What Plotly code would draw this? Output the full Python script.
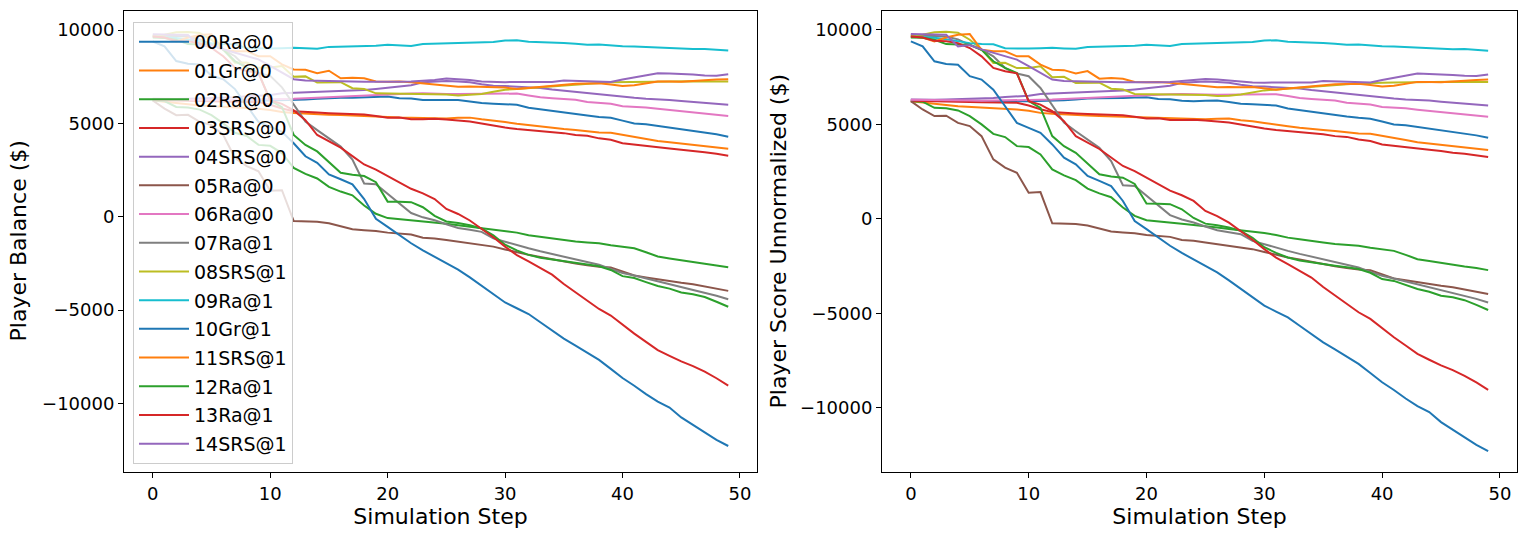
import plotly.graph_objects as go

steps = list(range(50))

names = ["00Ra@0", "01Gr@0", "02Ra@0", "03SRS@0", "04SRS@0", "05Ra@0", "06Ra@0",
         "07Ra@1", "08SRS@1", "09Ra@1", "10Gr@1", "11SRS@1", "12Ra@1", "13Ra@1", "14SRS@1"]

s00 = [6290, 6280, 6280, 6270, 6260, 6250, 6250, 6240, 6230, 6230,
       6230, 6240, 6250, 6280, 6320, 6370, 6380, 6370, 6400, 6420,
       6440, 6350, 6330, 6250, 6230, 6250, 6260, 6180, 6090, 6060,
       6030, 6000, 5840, 5750, 5650, 5560, 5500, 5420, 5350, 5300,
       5150, 5000, 4950, 4860, 4780, 4700, 4610, 4530, 4420, 4290]
s01 = [6230, 6150, 6080, 6030, 5960, 5930, 5900, 5850, 5800, 5790,
       5720, 5610, 5560, 5520, 5480, 5470, 5450, 5430, 5420, 5400,
       5350, 5320, 5300, 5280, 5260, 5270, 5300, 5310, 5220, 5170,
       5080, 4980, 4900, 4820, 4780, 4700, 4650, 4580, 4520, 4500,
       4380, 4290, 4180, 4060, 3990, 3920, 3850, 3800, 3720, 3640]
s02 = [6230, 6200, 5880, 5850, 5740, 5440, 5000, 4500, 4330, 3850,
       3800, 3410, 2620, 2300, 2050, 1600, 1350, 1150, 600, 160,
       -70, -130, -160, -250, -320, -370, -450, -530, -600, -680,
       -750, -850, -990, -1080, -1150, -1250, -1330, -1380, -1420, -1530,
       -1600, -1690, -1900, -2130, -2230, -2340, -2420, -2520, -2600, -2710]
s03 = [6250, 6230, 6220, 6200, 6190, 6180, 6170, 6160, 6160, 6150,
       6000, 5800, 5650, 5600, 5580, 5550, 5530, 5520, 5480, 5400,
       5310, 5320, 5230, 5230, 5250, 5210, 5170, 5100, 5000, 4880,
       4780, 4700, 4640, 4600, 4550, 4480, 4380, 4340, 4200, 4120,
       3940, 3880, 3800, 3730, 3660, 3590, 3500, 3450, 3370, 3270]
s04 = [6320, 6300, 6310, 6320, 6330, 6350, 6370, 6400, 6450, 6490,
       6520, 6610, 6630, 6650, 6700, 6720, 6750, 6770, 6790, 6850,
       6930, 6980, 7050, 7200, 7250, 7270, 7250, 7200, 7100, 7020,
       7000, 6980, 6960, 6900, 6820, 6750, 6700, 6640, 6580, 6500,
       6420, 6370, 6320, 6300, 6260, 6200, 6140, 6100, 6050, 6000]
s05 = [6230, 5790, 5440, 5460, 5080, 4910, 4380, 3150, 2710, 2440,
       1390, 1420, -230, -240, -270, -350, -500, -670, -720, -760,
       -850, -900, -950, -1120, -1160, -1250, -1340, -1420, -1500, -1600,
       -1750, -1900, -2040, -2150, -2280, -2390, -2500, -2600, -2680, -2720,
       -2950, -3150, -3250, -3360, -3450, -3540, -3620, -3750, -3850, -3970]
s06 = [6300, 6300, 6290, 6280, 6270, 6260, 6250, 6260, 6270, 6270,
       6280, 6280, 6320, 6350, 6380, 6400, 6440, 6470, 6500, 6540,
       6560, 6580, 6600, 6610, 6580, 6580, 6570, 6580, 6590, 6600,
       6600, 6600, 6500, 6400, 6350, 6320, 6270, 6150, 6090, 6050,
       5920, 5900, 5850, 5780, 5720, 5680, 5610, 5550, 5470, 5400]
s07 = [9700, 9700, 9680, 9650, 9500, 9200, 8950, 8600, 7980, 7690,
       7550, 6930, 6000, 5100, 4640, 4200, 3760, 3060, 1780, 1740,
       1210, 700, 200, -30, -190, -400, -600, -700, -810, -1160,
       -1350, -1500, -1690, -1850, -2000, -2130, -2280, -2420, -2570, -2800,
       -3010, -3150, -3300, -3450, -3600, -3750, -3890, -4050, -4230, -4420]
s08 = [9700, 9750, 9880, 9900, 9850, 9480, 8980, 8250, 8260, 7980,
       7990, 8070, 7500, 7520, 7190, 7200, 7210, 6890, 6850, 6610,
       6600, 6600, 6600, 6590, 6580, 6550, 6500, 6520, 6580, 6700,
       6800, 6850, 6900, 6960, 7000, 7050, 7100, 7130, 7170, 7200,
       7210, 7220, 7230, 7250, 7250, 7260, 7260, 7250, 7250, 7250]
s09 = [9650, 9620, 9580, 9500, 9400, 9300, 9250, 9240, 9030, 9010,
       9010, 9030, 9050, 9020, 9000, 9100, 9110, 9120, 9130, 9160,
       9210, 9170, 9150, 9250, 9270, 9260, 9290, 9300, 9330, 9360,
       9440, 9450, 9370, 9360, 9340, 9310, 9270, 9220, 9230, 9170,
       9130, 9120, 9090, 9060, 9050, 9010, 8980, 8990, 8950, 8900]
s10 = [9390, 9130, 8340, 8200, 8160, 7550, 7370, 6840, 5960, 5080,
       4820, 4550, 3940, 3240, 2890, 2270, 2010, 1740, 950, -110,
       -540, -990, -1420, -1800, -2150, -2500, -2830, -3250, -3710, -4150,
       -4590, -4900, -5210, -5650, -6100, -6530, -6900, -7300, -7670, -8150,
       -8640, -9050, -9500, -9900, -10220, -10750, -11150, -11540, -11950, -12280]
s11 = [9650, 9600, 9390, 9600, 9740, 9780, 8950, 8870, 8870, 8600,
       8600, 8160, 7890, 7870, 7690, 7820, 7420, 7450, 7420, 7250,
       7230, 7240, 7200, 7150, 7110, 7050, 6970, 6980, 6960, 6980,
       6920, 6840, 6900, 6960, 7050, 7110, 7130, 7140, 7150, 7080,
       7000, 7050, 7150, 7250, 7250, 7230, 7270, 7330, 7350, 7370]
s12 = [9600, 9580, 9480, 9250, 9230, 9220, 8950, 8340, 7990, 7720,
       6230, 5870, 4380, 3850, 3500, 2950, 2360, 2250, 2180, 1850,
       810, 800, 780, 510, 50, -250, -330, -450, -630, -1000,
       -1500, -1800, -2040, -2200, -2300, -2390, -2480, -2560, -2650, -2850,
       -3180, -3280, -3500, -3710, -3850, -4060, -4150, -4300, -4550, -4820]
s13 = [9650, 9600, 9420, 9400, 9300, 9040, 8600, 7990, 7810, 7700,
       6230, 6050, 5700, 5170, 4380, 4050, 3700, 3250, 2800, 2530,
       2200, 1830, 1500, 1250, 950, 420, 150, -200, -630, -1100,
       -1600, -2050, -2390, -2750, -3100, -3600, -4060, -4500, -4940, -5290,
       -5800, -6260, -6700, -7140, -7450, -7750, -8000, -8300, -8650, -9040]
s14 = [9780, 9760, 9750, 9740, 9130, 9200, 8970, 8800, 8600, 8430,
       8080, 7720, 7370, 7300, 7280, 7270, 7250, 7240, 7230, 7230,
       7220, 7230, 7240, 7280, 7330, 7400, 7380, 7320, 7250, 7220,
       7210, 7220, 7210, 7220, 7220, 7300, 7280, 7260, 7250, 7220,
       7350, 7460, 7570, 7690, 7670, 7660, 7620, 7570, 7560, 7640]

series = [s00, s01, s02, s03, s04, s05, s06, s07, s08, s09, s10, s11, s12, s13, s14]
colors = ["#1f77b4", "#ff7f0e", "#2ca02c", "#d62728", "#9467bd", "#8c564b", "#e377c2",
          "#7f7f7f", "#bcbd22", "#17becf"]

x_ticks = [0, 10, 20, 30, 40, 50]
y_ticks = [-10000, -5000, 0, 5000, 10000]
y_ticktext = ["\u221210000", "\u22125000", "0", "5000", "10000"]

FONT = "DejaVu Sans"
fig = go.Figure()
for panel, (xa, ya) in enumerate([("x", "y"), ("x2", "y2")]):
    for i, (nm, vals) in enumerate(zip(names, series)):
        fig.add_trace(go.Scatter(
            x=steps, y=vals, mode="lines", name=nm,
            line=dict(color=colors[i % 10], width=2),
            xaxis=xa, yaxis=ya, showlegend=(panel == 0),
            legendgroup="g%02d" % i,
        ))

W, H = 1528, 536
ml, mr, mt, mb = 124, 11, 11, 64
pw = W - ml - mr
ph = H - mt - mb


def axis_common():
    return dict(showline=True, linecolor="black", linewidth=1, mirror=True,
                ticks="outside", ticklen=5, tickwidth=1, tickcolor="black",
                showgrid=False, zeroline=False,
                tickfont=dict(family=FONT, size=18, color="black"))


xa1 = axis_common()
xa1.update(domain=[0, 633 / pw], range=[-2.45, 51.45], tickvals=x_ticks,
           title=dict(text="Simulation Step", font=dict(family=FONT, size=22, color="black"), standoff=6),
           anchor="y")
xa2 = axis_common()
xa2.update(domain=[(882 - ml) / pw, 1], range=[-2.45, 51.45], tickvals=x_ticks,
           title=dict(text="Simulation Step", font=dict(family=FONT, size=22, color="black"), standoff=6),
           anchor="y2")
ya1 = axis_common()
ya1.update(range=[-13672, 11022], tickvals=y_ticks, ticktext=y_ticktext, anchor="x")
ya2 = axis_common()
ya2.update(range=[-13390, 11000], tickvals=y_ticks, ticktext=y_ticktext, anchor="x2")

ytitle_font = dict(family=FONT, size=22, color="black")
annotations = [
    dict(text="Player Balance ($)", textangle=-90, xref="paper", yref="paper",
         x=(18 - ml) / pw, y=0.5, xanchor="center", yanchor="middle",
         showarrow=False, font=ytitle_font),
    dict(text="Player Score Unnormalized ($)", textangle=-90, xref="paper", yref="paper",
         x=(778 - ml) / pw, y=0.5, xanchor="center", yanchor="middle",
         showarrow=False, font=ytitle_font),
]

fig.update_layout(
    width=W, height=H,
    margin=dict(l=ml, r=mr, t=mt, b=mb),
    paper_bgcolor="white", plot_bgcolor="white",
    font=dict(family=FONT, color="black"),
    xaxis=xa1, xaxis2=xa2, yaxis=ya1, yaxis2=ya2,
    annotations=annotations,
    legend=dict(x=(133 - ml) / pw, y=1 - (22 - mt) / ph, xanchor="left", yanchor="top",
                bgcolor="rgba(255,255,255,0.8)", bordercolor="#cccccc", borderwidth=1,
                font=dict(family=FONT, size=19, color="black"), itemwidth=50,
                traceorder="grouped", tracegroupgap=1),
)

fig.write_html("out.html")
